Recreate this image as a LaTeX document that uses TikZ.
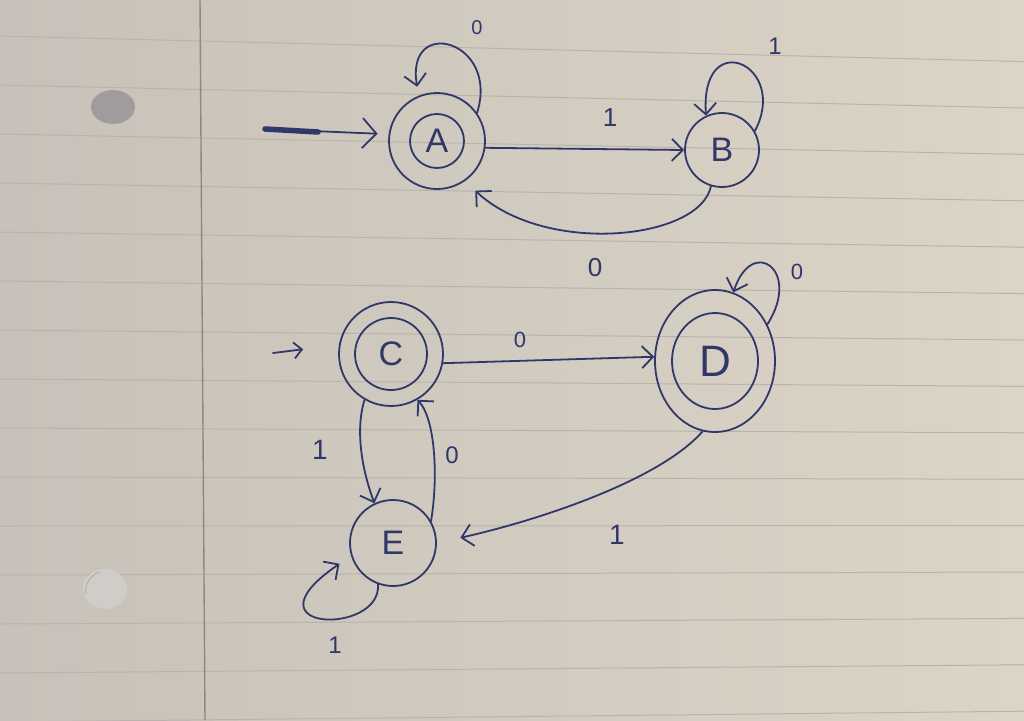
\documentclass[tikz,border=0pt]{standalone}
\usepackage{fontspec}
\setmainfont{Liberation Sans}
\usetikzlibrary{arrows.meta,shapes.geometric,calc}
\definecolor{ink}{HTML}{30386A}
\definecolor{paperL}{HTML}{C7C1B9}
\definecolor{paperR}{HTML}{DCD4C6}
\definecolor{rulec}{HTML}{BAB3AB}
\definecolor{marginc}{HTML}{8E8782}
\definecolor{holeA}{HTML}{A09B9D}
\definecolor{holeB}{HTML}{D0CCC7}
\begin{document}
\begin{tikzpicture}[x=1pt,y=-1pt,
  pen/.style={draw=ink, line width=1.8pt, line cap=round},
  arr/.style={pen, -{Straight Barb[length=11pt,width=22pt]}},
  state/.style={circle, pen, inner sep=0pt, text=ink, font=\fontsize{34}{34}\selectfont},
  lbl/.style={text=ink, inner sep=0pt, font=\fontsize{#1}{#1}\selectfont},
  lbl/.default=26,
  rule/.style={draw=rulec, line width=1pt},
]
\useasboundingbox (0,0) rectangle (1024,720);
% paper
\fill[left color=paperL, right color=paperR] (0,0) rectangle (1024,720);
\foreach \k in {-1,...,13}
  \draw[rule] (0,{85+49*\k}) -- (1024,{108+46.4*\k});
\draw[draw=marginc, line width=1.4pt] (200,0) -- (205,720);
\fill[holeA] (113,107) ellipse [x radius=22pt, y radius=17pt];
\fill[holeB] (105,589) ellipse [x radius=22pt, y radius=20pt];
\draw[draw=holeA!80, line width=1pt] (86,594) arc[start angle=190, end angle=110, x radius=22pt, y radius=20pt];

% states
\node[state, minimum size=96pt] (A) at (437,141) {A};
\draw[pen] (A.center) circle[radius=27pt];
\node[state, minimum size=74pt] (B) at (722,150) {B};
\node[state, minimum size=104pt] (C) at (391,354) {C};
\draw[pen] (C.center) circle[radius=36pt];
\node[state, ellipse, minimum width=120pt, minimum height=142pt, font=\fontsize{44}{44}\selectfont] (D) at (715,361) {D};
\draw[pen] (D.center) ellipse[x radius=43pt, y radius=48pt];
\node[state, minimum size=86pt] (E) at (393,543) {E};

% start arrows
\coordinate (sA) at (265,129);
\coordinate (sA2) at (318,132);
\draw[pen, -{Straight Barb[length=14pt,width=30pt]}, shorten >=11pt] (sA) -- (A.172);
\draw[pen, line width=5.5pt] (sA) -- (sA2);
\coordinate (sC) at (273,353);
\draw[arr, shorten >=36pt, -{Straight Barb[length=8pt,width=16pt]}] (sC) -- (C.170);

% top automaton
\draw[arr, shorten >=9pt] (A.35) .. controls (500,40) and (405,15) .. (A.112);
\draw[arr] (A.-8) -- (B.180);
\draw[arr, shorten >=14pt] (B.-107) .. controls (700,240) and (545,256) .. (A.-55);
\draw[arr] (B.30) .. controls (790,65) and (700,25) .. (B.115);

% bottom automaton
\draw[arr] (C.-10) -- (D.176);
\draw[arr] (D.35) .. controls (802,270) and (752,235) .. (D.75);
\draw[arr] (C.-120) .. controls (355,430) and (362,470) .. (E.115);
\draw[arr] (E.30) .. controls (438,480) and (436,420) .. (C.-60);
\draw[arr, shorten >=24pt] (D.-100) .. controls (660,480) and (540,520) .. (E.0);
\draw[arr, shorten >=14pt] (E.-110) .. controls (382,636) and (240,632) .. (E.197);

% labels
\node[lbl=20] (l1) at (477,28) {0};
\node[lbl=24] (l2) at (775,46) {1};
\node[lbl] (l3) at (610,118) {1};
\node[lbl] (l4) at (595,268) {0};
\node[lbl=22] (l5) at (520,340) {0};
\node[lbl=22] (l6) at (797,272) {0};
\node[lbl=28] (l7) at (320,450) {1};
\node[lbl=24] (l8) at (452,455) {0};
\node[lbl=28] (l9) at (617,535) {1};
\node[lbl=24] (l10) at (335,645) {1};
\end{tikzpicture}
\end{document}
